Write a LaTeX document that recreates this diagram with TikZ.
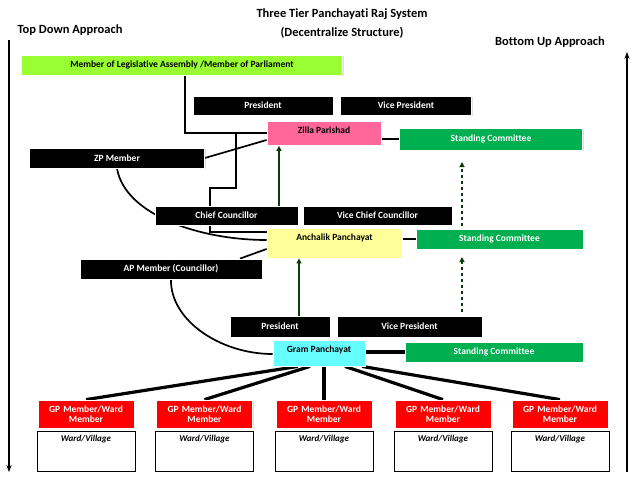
\documentclass[tikz,border=0pt]{standalone}
\usepackage{fontspec}
\setmainfont{Carlito}[Ligatures=NoCommon]
\usetikzlibrary{arrows.meta,shadows,backgrounds}
\definecolor{lime}{HTML}{99FF33}
\definecolor{zp}{HTML}{FF6699}
\definecolor{sc}{HTML}{00B050}
\definecolor{ap}{HTML}{FFFF99}
\definecolor{gp}{HTML}{66FFFF}
\definecolor{dg}{HTML}{0B3D0B}
\tikzset{
 box/.style={draw=white,line width=0.8pt,drop shadow={opacity=0.25,shadow xshift=1pt,shadow yshift=-1pt},inner sep=0pt,font=\bfseries\fontsize{9.5}{10.5}\selectfont},
 blk/.style={box,fill=black,text=white},
 scb/.style={box,fill=sc,text=white},
 gpm/.style={box,fill=red,text=white,align=center,text width=96pt,minimum height=28pt},
 ward/.style={draw=black,fill=white,line width=0.8pt,minimum width=98pt,minimum height=40pt,inner sep=0pt},
 wt/.style={font=\bfseries\itshape\fontsize{9}{10}\selectfont},
 ln/.style={line width=1.7pt},
 thk/.style={line width=3.2pt},
 garr/.style={dg,line width=1.8pt,-{Triangle[length=5pt,width=5pt]}},
 lbl/.style={font=\bfseries\fontsize{12.5}{14}\selectfont},
}
\begin{document}
\begin{tikzpicture}[x=1pt,y=-1pt]
\useasboundingbox (0,0) rectangle (638,479);
% titles
\node[lbl] (t1) at (342,14) {Three Tier Panchayati Raj System};
\node[lbl] (t2) at (342,33) {(Decentralize Structure)};
\node[lbl] (td) at (70,30) {Top Down Approach};
\node[lbl] (bu) at (550,42) {Bottom Up Approach};
\coordinate (l1) at (9,40); \coordinate (l2) at (9,472);
\coordinate (r1) at (627,472); \coordinate (r2) at (627,52);
\draw[line width=1.5pt,-{Stealth[length=7pt]}] (l1) -- (l2);
\draw[line width=1.5pt,-{Stealth[length=7pt]}] (r1) -- (r2);
% nodes
\node[box,fill=lime,minimum width=321pt,minimum height=20pt] (mla) at (182,65) {Member of Legislative Assembly /Member of Parliament};
\node[blk,minimum width=140pt,minimum height=19pt] (p1) at (263,105.5) {President};
\node[blk,minimum width=131pt,minimum height=19pt] (v1) at (406,105.5) {Vice President};
\node[box,fill=zp,minimum width=114pt,minimum height=24pt,anchor=north] (zpn) at (324,121) {};
\node[font=\bfseries\fontsize{9.5}{10.5}\selectfont] (zpt) at (324,130) {Zilla Parishad};
\node[scb,minimum width=183pt,minimum height=22pt] (sc1) at (491,139) {Standing Committee};
\node[blk,minimum width=175pt,minimum height=20pt] (zpm) at (117,158) {ZP Member};
\node[blk,minimum width=143pt,minimum height=19pt] (cc) at (226.5,215.5) {Chief Councillor};
\node[blk,minimum width=149pt,minimum height=19pt] (vcc) at (377.5,215.5) {Vice Chief Councillor};
\node[box,fill=ap,minimum width=135pt,minimum height=30pt] (anp) at (334.5,243) {};
\node[font=\bfseries\fontsize{9.5}{10.5}\selectfont] (anpt) at (334.5,238) {Anchalik Panchayat};
\node[scb,minimum width=167pt,minimum height=20pt] (sc2) at (499.5,239) {Standing Committee};
\node[blk,minimum width=182pt,minimum height=20pt] (apm) at (171,269) {AP Member (Councillor)};
\node[blk,minimum width=100pt,minimum height=21pt] (p3) at (280,326.5) {President};
\node[blk,minimum width=145pt,minimum height=21pt] (v3) at (409.5,326.5) {Vice President};
\node[box,fill=gp,minimum width=92pt,minimum height=26pt] (gpn) at (319,353) {};
\node[font=\bfseries\fontsize{9.5}{10.5}\selectfont] (gpt) at (319,350) {Gram Panchayat};
\node[scb,minimum width=178pt,minimum height=20pt] (sc3) at (494,352) {Standing Committee};
% bottom
\foreach \i/\x in {1/86,2/204.5,3/324,4/443,5/560}{
 \node[gpm] (g\i) at (\x,414) {GP Member/Ward\\Member};
 \node[ward,anchor=north] (w\i) at (\x,431) {};
 \node[wt] (wt\i) at (\x,439) {Ward/Village};
}
% connectors
\begin{scope}[on background layer]
\fill[white] (0,0) rectangle (638,479);
\coordinate (m1) at (185,133);
\draw[ln] (mla.south -| m1) -- (m1) -- (zpn.west |- m1);
\coordinate (c1) at (236,133); \coordinate (c2) at (236,188); \coordinate (c3) at (210,188); \coordinate (c4) at (210,232);
\draw[ln] (c1) -- (c2) -- (c3) -- (c4) -- (anp.west |- c4);
\draw[ln] (zpm.east) -- (zpn.west |- 0,140);
\draw[ln] (zpm.south) .. controls (125,215) and (200,240) .. (anp.west |- 0,240);
\draw[ln] (apm.north -| 240,0) -- (anp.west |- 0,249);
\draw[ln] (apm.south) .. controls (170,320) and (220,354) .. (gpn.west |- 0,354);
\draw[ln] (zpn.east |- sc1.west) -- (sc1.west);
\draw[ln] (anp.east |- sc2.west) -- (sc2.west);
\draw[thk] (gpn.east |- sc3.west) -- (sc3.west);
\draw[thk] (gpn.south -| 298,0) -- (g1.north);
\draw[thk] (gpn.south -| 310,0) -- (g2.north);
\draw[thk] (gpn.south -| 324,0) -- (g3.north);
\draw[thk] (gpn.south -| 345,0) -- (g4.north);
\draw[thk] (gpn.south -| 362,0) -- (g5.north);
\end{scope}
\draw[garr] (cc.north -| 279,0) -- (zpn.south -| 279,0);
\draw[garr] (p3.north -| 299,0) -- (anp.south -| 299,0);
\draw[garr,dashed] (462,226) -- (462,162);
\draw[garr,dashed] (462,312) -- (462,257);
\end{tikzpicture}
\end{document}
